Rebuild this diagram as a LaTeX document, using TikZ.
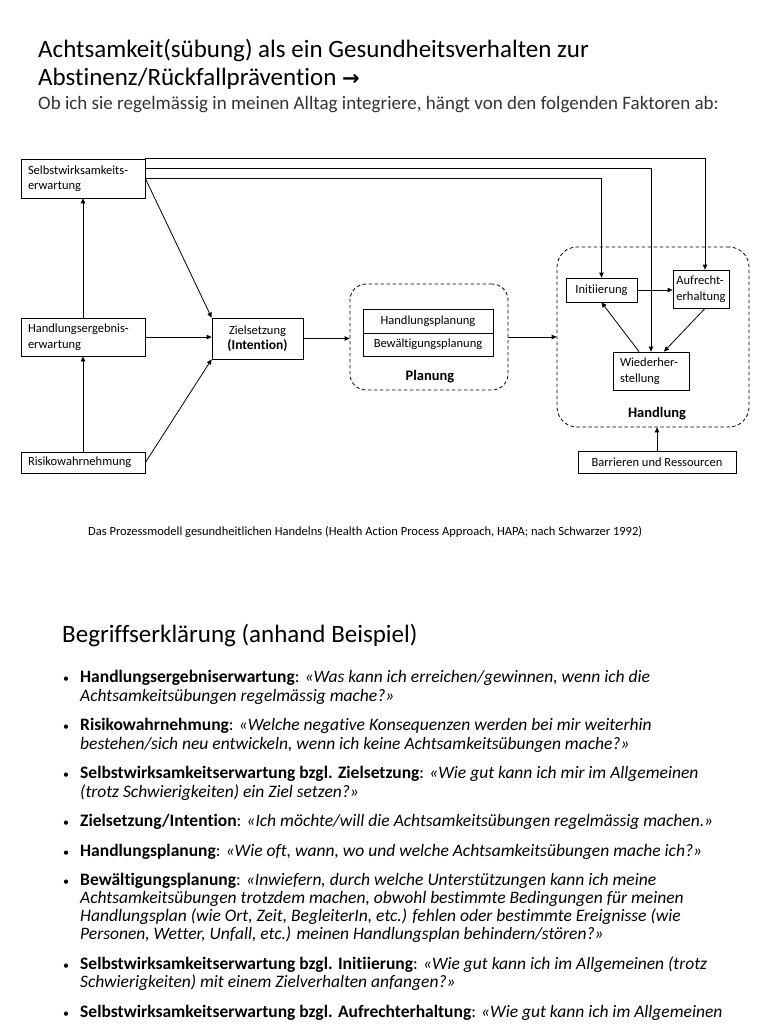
\documentclass[tikz,border=0pt]{standalone}
\usepackage{fontspec}
\setmainfont{Carlito}[Ligatures=NoCommon]
\newfontfamily\pfeilfont{DejaVu Sans}
\usetikzlibrary{arrows.meta}
\newcommand\diagfont{\fontsize{12.5}{15.5}\selectfont}
\newcommand\listfont{\fontsize{17.5}{18}\selectfont}
\tikzset{
  kasten/.style={draw,line width=0.8pt,inner sep=0pt,font=\diagfont},
  gruppe/.style={draw,dashed,dash pattern=on 3.5pt off 2.5pt,line width=0.8pt,rounded corners=16pt,inner sep=0pt},
  zeile/.style={anchor=base west,inner sep=0pt,font=\listfont},
  punkt/.style={anchor=base west,inner sep=0pt,font=\fontsize{12}{14}\selectfont}
}
\begin{document}
\begin{tikzpicture}[x=1pt,y=-1pt,>={Triangle[length=5pt,width=4.5pt]}]
  \useasboundingbox (0,0) rectangle (768,1024);
  % Kopf
  \node[anchor=base west,inner sep=0pt,font=\fontsize{25}{28}\selectfont] (titel1) at (38,58)
    {Achtsamkeit(sübung) als ein Gesundheitsverhalten zur};
  \node[anchor=base west,inner sep=0pt,font=\fontsize{25}{28}\selectfont] (titel2) at (38,86)
    {Abstinenz/Rückfallprävention {\pfeilfont\bfseries\fontsize{21}{24}\selectfont →}};
  \node[anchor=base west,inner sep=0pt,font=\fontsize{19}{22}\selectfont,black!80] (untertitel) at (38,110)
    {Ob ich sie regelmässig in meinen Alltag integriere, hängt von den folgenden Faktoren ab:};

  % HAPA-Modell
  \node[kasten,minimum width=124pt,minimum height=39pt,text width=110pt,align=left] (selbst) at (83,178.5) {Selbstwirksamkeits-\\erwartung};
  \node[kasten,minimum width=124pt,minimum height=38pt,text width=110pt,align=left] (ergebnis) at (83,337) {Handlungsergebnis-\\erwartung};
  \node[kasten,minimum width=124pt,minimum height=21pt,text width=110pt,align=left] (risiko) at (83,462.5) {Risikowahrnehmung};
  \node[kasten,minimum width=91pt,minimum height=41pt,align=center] (ziel) at (257.5,338.5) {Zielsetzung\\{\fontsize{13.5}{15}\selectfont\bfseries(Intention)}};

  \node[gruppe,minimum width=158pt,minimum height=106pt] (planung) at (429,337) {};
  \node[kasten,minimum width=130pt,minimum height=24pt] (hplan) at (428,321) {Handlungsplanung};
  \node[kasten,minimum width=130pt,minimum height=23pt] (bplan) at (428,344.5) {Bewältigungsplanung};
  \node[font=\fontsize{14.5}{16}\selectfont\bfseries] (planungtext) at (430,377) {Planung};

  \node[gruppe,rounded corners=20pt,minimum width=192pt,minimum height=180pt] (handlung) at (653,337) {};
  \node[kasten,minimum width=71pt,minimum height=24pt] (init) at (601.5,290) {Initiierung};
  \node[kasten,minimum width=56pt,minimum height=38pt,align=left] (aufrecht) at (701,289) {Aufrecht-\\erhaltung};
  \node[kasten,minimum width=76pt,minimum height=38pt,text width=62pt,align=left] (wieder) at (651,371) {Wiederher-\\stellung};
  \node[font=\fontsize{14.5}{16}\selectfont\bfseries] (handlungtext) at (657,414) {Handlung};
  \node[kasten,minimum width=158pt,minimum height=22pt] (barrieren) at (657,462) {Barrieren und Ressourcen};

  \begin{scope}[every edge/.style={draw,->,line width=0.8pt}]
  \path (ergebnis) edge (selbst);
  \path (risiko) edge (ergebnis);
  \path ([yshift=-20pt]selbst.north east) edge (ziel.north west);
  \path (ergebnis.east) edge (ergebnis.east -| ziel.west);
  \path (risiko.east) edge (ziel.south west);
  \path (ziel.east) edge (ziel.east -| planung.west);
  \path (planung.east) edge (planung.east -| handlung.west);
  \path (barrieren.north) edge (barrieren.north |- handlung.south);
  \path (init.east) edge (init.east -| aufrecht.west);
  \path ([xshift=4pt]aufrecht.south) edge ([xshift=13pt]wieder.north);
  \path ([xshift=-12pt]wieder.north) edge (init.south);
  \end{scope}
  \draw[->,line width=0.8pt] (selbst.north east) -| ([xshift=4pt]aufrecht.north);
  \draw[->,line width=0.8pt] ([yshift=-10pt]selbst.north east) -| (wieder.north);
  \draw[->,line width=0.8pt] ([yshift=-20pt]selbst.north east) -| (init.north);

  \node[anchor=base west,inner sep=0pt,font=\fontsize{12.5}{14}\selectfont] (quelle) at (88,535)
    {Das Prozessmodell gesundheitlichen Handelns (Health Action Process Approach, HAPA; nach Schwarzer 1992)};

  % Begriffe
  \node[anchor=base west,inner sep=0pt,font=\fontsize{25}{28}\selectfont] (begriffe) at (62,642) {Begriffserklärung (anhand Beispiel)};

  \node[punkt] (p1) at (63,682) {•};
  \node[zeile] (z1) at (80,682) {\textbf{Handlungsergebniserwartung}: \textit{«Was kann ich erreichen/gewinnen, wenn ich die}};
  \node[zeile] (z2) at (80,701) {\textit{Achtsamkeitsübungen regelmässig mache?»}};
  \node[punkt] (p2) at (63,730) {•};
  \node[zeile] (z3) at (80,730) {\textbf{Risikowahrnehmung}: \textit{«Welche negative Konsequenzen werden bei mir weiterhin}};
  \node[zeile] (z4) at (80,749) {\textit{bestehen/sich neu entwickeln, wenn ich keine Achtsamkeitsübungen mache?»}};
  \node[punkt] (p3) at (63,778) {•};
  \node[zeile] (z5) at (80,778) {\textbf{Selbstwirksamkeitserwartung bzgl. Zielsetzung}: \textit{«Wie gut kann ich mir im Allgemeinen}};
  \node[zeile] (z6) at (80,797) {\textit{(trotz Schwierigkeiten) ein Ziel setzen?»}};
  \node[punkt] (p4) at (63,826) {•};
  \node[zeile] (z7) at (80,826) {\textbf{Zielsetzung/Intention}: \textit{«Ich möchte/will die Achtsamkeitsübungen regelmässig machen.»}};
  \node[punkt] (p5) at (63,856) {•};
  \node[zeile] (z8) at (80,856) {\textbf{Handlungsplanung}: \textit{«Wie oft, wann, wo und welche Achtsamkeitsübungen mache ich?»}};
  \node[punkt] (p6) at (63,885) {•};
  \node[zeile] (z9) at (80,885) {\textbf{Bewältigungsplanung}: \textit{«Inwiefern, durch welche Unterstützungen kann ich meine}};
  \node[zeile] (z10) at (80,903) {\textit{Achtsamkeitsübungen trotzdem machen, obwohl bestimmte Bedingungen für meinen}};
  \node[zeile] (z11) at (80,921) {\textit{Handlungsplan (wie Ort, Zeit, BegleiterIn, etc.) fehlen oder bestimmte Ereignisse (wie}};
  \node[zeile] (z12) at (80,939) {\textit{Personen, Wetter, Unfall, etc.) meinen Handlungsplan behindern/stören?»}};
  \node[punkt] (p7) at (63,969) {•};
  \node[zeile] (z13) at (80,969) {\textbf{Selbstwirksamkeitserwartung bzgl. Initiierung}: \textit{«Wie gut kann ich im Allgemeinen (trotz}};
  \node[zeile] (z14) at (80,987) {\textit{Schwierigkeiten) mit einem Zielverhalten anfangen?»}};
  \node[punkt] (p8) at (63,1017) {•};
  \node[zeile] (z15) at (80,1017) {\textbf{Selbstwirksamkeitserwartung bzgl. Aufrechterhaltung}: \textit{«Wie gut kann ich im Allgemeinen}};
\end{tikzpicture}
\end{document}
